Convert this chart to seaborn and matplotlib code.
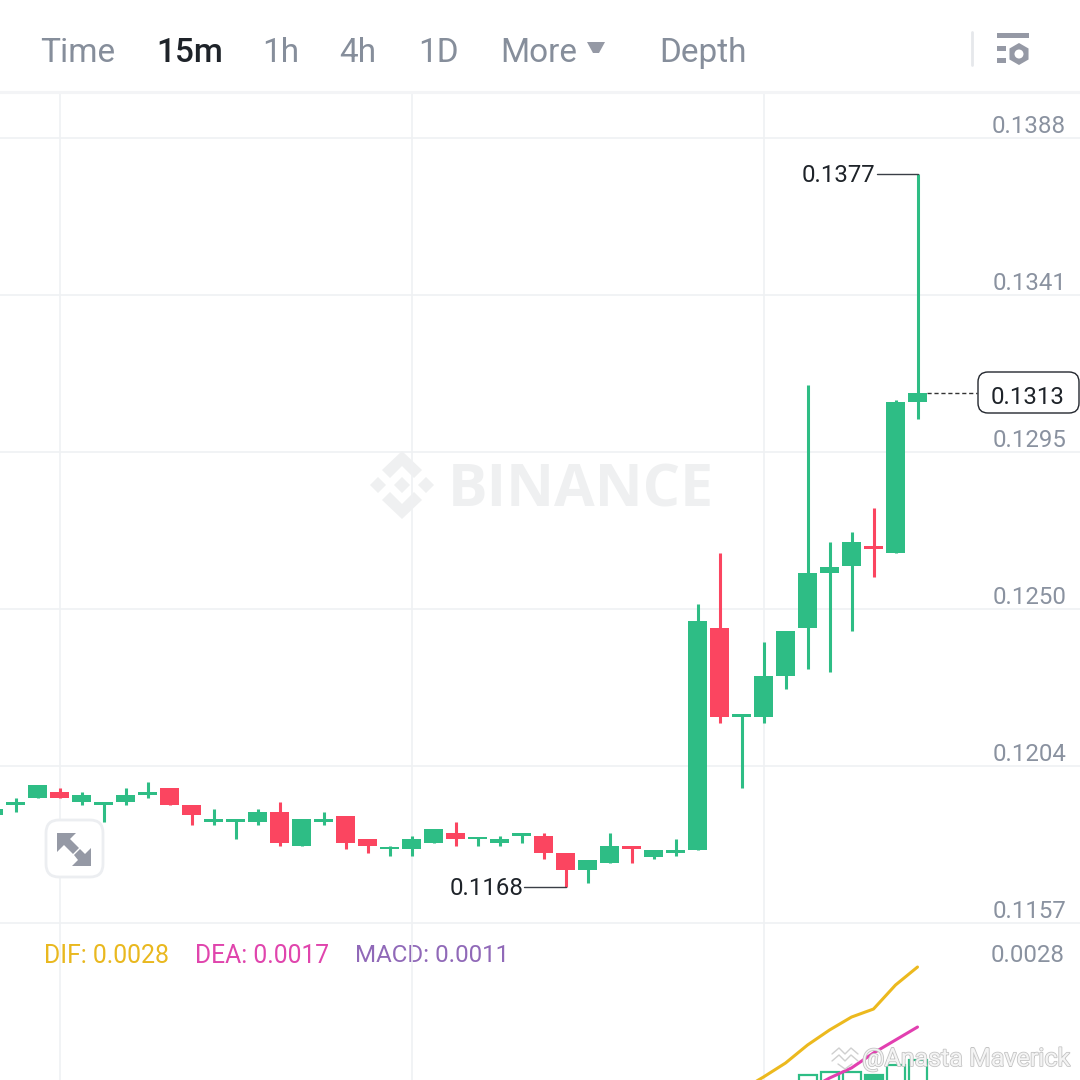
import numpy as np
import matplotlib
matplotlib.use('Agg')
import matplotlib.pyplot as plt
import matplotlib.patheffects as pe
from matplotlib.patches import FancyBboxPatch, Polygon, Circle, Rectangle
import seaborn as sns

# candles, oldest to newest
opens = [0.11888, 0.11917, 0.11938, 0.11955, 0.11926, 0.11917, 0.11926, 0.11946, 0.11967, 0.11917,
         0.11867, 0.11867, 0.11867, 0.11896, 0.11796, 0.11867, 0.11885, 0.11817, 0.11788, 0.11788,
         0.11805, 0.11835, 0.11817, 0.11805, 0.11826, 0.11826, 0.11776, 0.11726, 0.11746, 0.11796,
         0.11764, 0.11776, 0.11785, 0.12438, 0.12176, 0.12176, 0.12297, 0.12438, 0.12600, 0.12620,
         0.12679, 0.12659, 0.13103]
closes = [0.11905, 0.11926, 0.11976, 0.11938, 0.11946, 0.11926, 0.11946, 0.11955, 0.11917, 0.11888,
          0.11876, 0.11876, 0.11896, 0.11805, 0.11876, 0.11876, 0.11805, 0.11796, 0.11793, 0.11817,
          0.11846, 0.11817, 0.11823, 0.11817, 0.11835, 0.11776, 0.11726, 0.11755, 0.11796, 0.11788,
          0.11785, 0.11785, 0.12459, 0.12176, 0.12185, 0.12297, 0.12429, 0.12600, 0.12617, 0.12691,
          0.12670, 0.13103, 0.13130]
highs = [0.11917, 0.11938, 0.11976, 0.11967, 0.11955, 0.11926, 0.11967, 0.11985, 0.11967, 0.11917,
         0.11905, 0.11876, 0.11905, 0.11926, 0.11876, 0.11896, 0.11885, 0.11817, 0.11796, 0.11826,
         0.11846, 0.11867, 0.11823, 0.11826, 0.11835, 0.11835, 0.11776, 0.11755, 0.11835, 0.11796,
         0.11785, 0.11817, 0.12509, 0.12659, 0.12185, 0.12397, 0.12429, 0.13153, 0.12691, 0.12720,
         0.12791, 0.13109, 0.13774]
lows = [0.11888, 0.11896, 0.11938, 0.11938, 0.11917, 0.11867, 0.11917, 0.11938, 0.11917, 0.11858,
        0.11858, 0.11817, 0.11858, 0.11796, 0.11796, 0.11858, 0.11788, 0.11776, 0.11767, 0.11767,
        0.11805, 0.11796, 0.11796, 0.11796, 0.11805, 0.11758, 0.11676, 0.11687, 0.11746, 0.11746,
        0.11758, 0.11767, 0.11785, 0.12158, 0.11967, 0.12158, 0.12258, 0.12317, 0.12308, 0.12429,
        0.12588, 0.12659, 0.13053]

# price axis
price_ticks = [0.13880, 0.13418, 0.12956, 0.12494, 0.12032, 0.11570]
price_labels = ['0.1388', '0.1341', '0.1295', '0.1250', '0.1204', '0.1157']
vgrid_idx = [3, 19, 35]

# macd panel
dif_idx = [34, 35, 36, 37, 38, 39, 40, 41, 42]
dif_vals = [0.000545, 0.000784, 0.00104, 0.00137, 0.001645, 0.001883, 0.00203, 0.00247, 0.0028]
dea_idx = [37, 38, 39, 40, 41, 42]
dea_vals = [0.000545, 0.000765, 0.00095, 0.001224, 0.001462, 0.0017]
hist_idx = [37, 38, 39, 40, 41, 42]
hist_vals = [0.00082, 0.00088, 0.00088, 0.00082, 0.00100, 0.00110]
hist_solid = [False, False, False, True, False, False]

GREEN = '#2ebd85'
RED = '#fb4560'
GRID = '#eff1f3'
TICK = '#8a92a0'
DARK = '#1e2329'
NAV = '#868e9b'
ICON = '#9599a5'

sns.set_theme(style='white')
plt.rcParams['font.family'] = ['Roboto', 'DejaVu Sans']

fig = plt.figure(figsize=(10.8, 10.8), dpi=100, facecolor='white')


def pixel_axes(zorder):
    a = fig.add_axes([0, 0, 1, 1], zorder=zorder)
    a.set_xlim(0, 1080)
    a.set_ylim(1080, 0)
    a.axis('off')
    a.patch.set_visible(False)
    return a


ui_back = pixel_axes(0)
ui_top = pixel_axes(5)
ax = fig.add_axes([0, 157 / 1080, 1, 831 / 1080], zorder=2)
ax_macd = fig.add_axes([0, 0, 1, 157 / 1080], zorder=2)

xlim = (6.5 / 22, 1086.5 / 22)
for a in (ax, ax_macd):
    a.patch.set_visible(False)
    a.set_xlim(xlim)
    a.set_xticks([])
    a.set_yticks([])
    sns.despine(ax=a, left=True, bottom=True)
    for i in vgrid_idx:
        a.axvline(i, color=GRID, lw=1.2, zorder=1)

ax.set_ylim(0.1157, 0.14015)
ax_macd.set_ylim(0.000729, 0.003607)

# price grid and labels
for val, lab in zip(price_ticks, price_labels):
    ax.axhline(val, color=GRID, lw=1.2, zorder=1, clip_on=False)
    ax.annotate(lab, xy=(1, val), xycoords=('axes fraction', 'data'), xytext=(-14, 0),
                textcoords='offset pixels', ha='right', va='bottom', fontsize=17.3, color=TICK)

# candlesticks
idx = np.arange(len(opens))
colors = [GREEN if c >= o else RED for o, c in zip(opens, closes)]
ax.vlines(idx, lows, highs, colors=colors, lw=2.2, zorder=3)
ax.bar(idx, np.abs(np.array(closes) - np.array(opens)), bottom=np.minimum(opens, closes),
       width=19.5 / 22, color=colors, linewidth=0, zorder=4)

# high / low callouts
ax.plot([40.16, idx[42]], [highs[42], highs[42]], color='#3a3f47', lw=1, zorder=3)
ax.annotate('0.1377', xy=(40.07, highs[42]), xytext=(0, -2), textcoords='offset pixels',
            ha='right', va='center', fontsize=17.3, color=DARK)
ax.plot([24.1, idx[26]], [lows[26], lows[26]], color='#3a3f47', lw=1, zorder=3)
ax.annotate('0.1168', xy=(24.1, lows[26]), xytext=(0, -2), textcoords='offset pixels',
            ha='right', va='center', fontsize=17.3, color=DARK)

# last price tag
ax.plot([42.45, 44.7], [closes[42], closes[42]], color='#333333', lw=1, ls=(0, (3, 2)), zorder=3)
ui_top.add_patch(FancyBboxPatch((978, 372), 101, 41, boxstyle='round,pad=0,rounding_size=10',
                                fc='white', ec='#23272e', lw=1))
ui_top.text(1065, 398, '0.1313', ha='right', va='center', fontsize=17.3, color=DARK)

# macd panel
ax_macd.bar(hist_idx, hist_vals, width=18 / 22, color=[GREEN if s else 'white' for s in hist_solid],
            edgecolor=GREEN, linewidth=1.6, zorder=2)
sns.lineplot(x=dif_idx, y=dif_vals, ax=ax_macd, color='#ecb91e', lw=2.2, zorder=4, legend=False)
sns.lineplot(x=dea_idx, y=dea_vals, ax=ax_macd, color='#e23fb0', lw=2.2, zorder=4, legend=False)
ax_macd.set_xlim(xlim)
ax_macd.set_ylim(0.000729, 0.003607)
ax_macd.set_xlabel('')
ax_macd.set_ylabel('')
ax_macd.set_xticks([])
ax_macd.set_yticks([])

ui_back.text(44, 956, 'DIF: 0.0028', va='center', fontsize=17.9, color='#e9b81f')
ui_back.text(195, 956, 'DEA: 0.0017', va='center', fontsize=17.7, color='#e045ad')
ui_back.text(355, 956, 'MACD: 0.0011', va='center', fontsize=17.4, color='#9069b8')
ui_back.text(1065, 955, '0.0028', ha='right', va='center', fontsize=17.3, color=TICK)

# top nav
nav_items = [('Time', 40), ('15m', 156), ('1h', 262), ('4h', 339), ('1D', 418), ('More', 500), ('Depth', 659)]
for lab, x in nav_items:
    active = lab == '15m'
    ui_top.text(x, 53, lab, va='center', fontsize=24, color=DARK if active else NAV,
                fontweight='medium' if active else 'normal',
                family=['Roboto', 'DejaVu Sans'])
ui_top.add_patch(Polygon([(587, 42), (605, 42), (599, 53), (593, 53)], closed=True, fc=ICON, ec='none'))
ui_top.plot([0, 1080], [92, 92], color='#f3f4f6', lw=2.2)
ui_top.plot([972, 972], [32, 65], color='#e6e8eb', lw=2)
ui_top.add_patch(Rectangle((997, 33), 32, 5, fc=ICON, ec='none'))
ui_top.add_patch(Rectangle((997, 46), 9, 5, fc=ICON, ec='none'))
ui_top.add_patch(Rectangle((997, 58), 9, 5, fc=ICON, ec='none'))
ang = np.deg2rad(np.arange(30, 390, 60))
ui_top.add_patch(Polygon(np.c_[1019 + 11 * np.cos(ang), 54 + 11 * np.sin(ang)], closed=True, fc=ICON, ec='none'))
ui_top.add_patch(Circle((1019, 54), 4.5, fc='white', ec='none'))

# binance watermark
WM = '#eff0f1'
ui_back.text(448, 491, 'BINANCE', va='center', ha='left', fontsize=42.5, fontweight='bold', color=WM,
             family=['Open Sans', 'DejaVu Sans'])
cx, cy = 402, 485
for dx, dy, r in [(0, 0, 8), (-24, 0, 8), (24, 0, 8)]:
    ui_back.add_patch(Polygon([(cx + dx - r, cy), (cx + dx, cy - r), (cx + dx + r, cy), (cx + dx, cy + r)],
                              closed=True, fc=WM, ec='none'))
ui_back.add_patch(Polygon([(cx - 20, cy - 15), (cx, cy - 34), (cx + 20, cy - 15), (cx + 12, cy - 7),
                           (cx, cy - 19), (cx - 12, cy - 7)], closed=True, fc=WM, ec='none'))
ui_back.add_patch(Polygon([(cx - 20, cy + 15), (cx, cy + 34), (cx + 20, cy + 15), (cx + 12, cy + 7),
                           (cx, cy + 19), (cx - 12, cy + 7)], closed=True, fc=WM, ec='none'))

# expand button
ui_top.add_patch(FancyBboxPatch((46, 820), 57, 57, boxstyle='round,pad=0,rounding_size=13',
                                fc='white', ec='#eceef1', lw=2))
ui_top.add_patch(Polygon([(57, 833), (76, 833), (70, 839), (79, 848), (73, 854), (64, 845), (57, 852)],
                         closed=True, fc=ICON, ec='none'))
ui_top.add_patch(Polygon([(91, 866), (72, 866), (78, 860), (74, 855), (80, 849), (85, 854), (91, 848)],
                         closed=True, fc=ICON, ec='none'))

# user watermark
ui_top.text(862, 1059, '@Anasta Maverick', va='center', ha='left', fontsize=18, color='#f4f4f4',
            path_effects=[pe.withStroke(linewidth=1.2, foreground='#c4c4c4')])
for off in (0, 7):
    ui_top.plot([832, 839, 845, 851, 858], np.array([1054, 1048, 1054, 1048, 1054]) + off,
                color='#cfcfcf', lw=1)
ui_top.plot([838, 845, 852], [1064, 1069, 1064], color='#cfcfcf', lw=1)

fig.savefig('out.png', dpi=100, facecolor='white')
